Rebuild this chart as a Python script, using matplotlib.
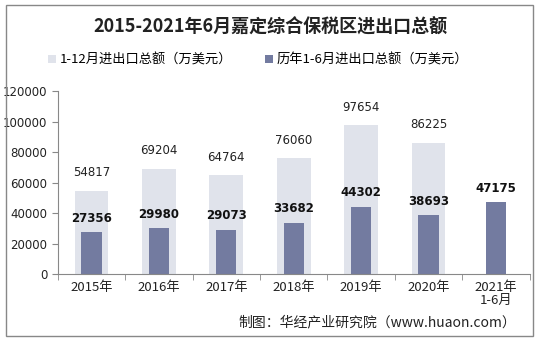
import numpy as np
import matplotlib.pyplot as plt
from matplotlib.patches import Rectangle

plt.rcParams['font.family'] = ['Noto Sans CJK SC', 'DejaVu Sans']

years = ['2015年', '2016年', '2017年', '2018年', '2019年', '2020年', '2021年\n1-6月']
full_year = [54817, 69204, 64764, 76060, 97654, 86225, None]
half_year = [27356, 29980, 29073, 33682, 44302, 38693, 47175]

light = '#e0e3eb'
dark = '#737ba0'

fig = plt.figure(figsize=(5.4, 3.41), dpi=100)
ax = fig.add_axes([0.107, 0.196, 0.874, 0.537])

x = np.arange(len(years))
fy = [v if v is not None else 0 for v in full_year]
ax.bar(x, fy, width=0.5, color=light, label='1-12月进出口总额（万美元）', zorder=1)
ax.bar(x, half_year, width=0.3, color=dark, label='历年1-6月进出口总额（万美元）', zorder=2)

for i in range(len(years)):
    if full_year[i] is not None:
        ax.annotate(str(full_year[i]), (x[i], full_year[i]), xytext=(0, 18),
                    textcoords='offset pixels', ha='center', va='center',
                    fontsize=8.5, family='DejaVu Sans', color='#222222')
    ax.annotate(str(half_year[i]), (x[i], half_year[i]), xytext=(0, 14),
                textcoords='offset pixels', ha='center', va='center',
                fontsize=8.5, family='DejaVu Sans', fontweight='bold', color='#111111')

ax.set_xlim(-0.5, len(years) - 0.5)
ax.set_ylim(0, 120000)
ax.set_yticks(np.arange(0, 120001, 20000))
ax.set_xticks(x)
ax.set_xticklabels(years, fontsize=9.5, color='#222222', linespacing=0.95)
ax.set_xticks(np.arange(-0.5, len(years)), minor=True)
ax.tick_params(axis='x', which='major', length=0, pad=5)
ax.tick_params(axis='x', which='minor', length=4, color='#888888')
ax.tick_params(axis='y', length=4, color='#888888', labelsize=8.5, labelcolor='#222222')
for lab in ax.get_yticklabels():
    lab.set_family('DejaVu Sans')

for s in ['top', 'right']:
    ax.spines[s].set_visible(False)
for s in ['left', 'bottom']:
    ax.spines[s].set_color('#888888')

fig.text(0.5, 0.92, '2015-2021年6月嘉定综合保税区进出口总额', ha='center', va='center',
         fontsize=13, fontweight='bold', color='#222222')
fig.legend(loc='center', bbox_to_anchor=(0.478, 0.823), ncol=2, frameon=False,
           fontsize=9.5, handlelength=0.6, handleheight=0.6, columnspacing=2.5,
           handletextpad=0.3)

fig.text(0.955, 0.055, '制图：华经产业研究院（www.huaon.com）', ha='right', va='center',
         fontsize=10, color='#222222')

fig.patches.append(Rectangle((6 / 540, 5 / 341), 527 / 540, 331 / 341, transform=fig.transFigure,
                             fill=False, edgecolor='#888888', linewidth=1))

fig.savefig('out.png', dpi=100)
